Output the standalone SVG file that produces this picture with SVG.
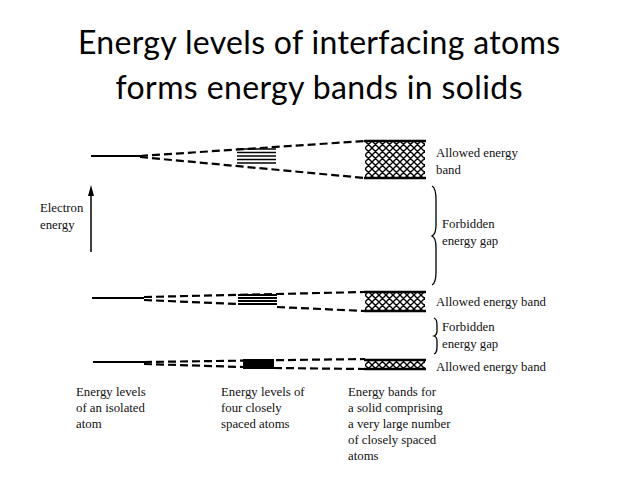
<svg xmlns="http://www.w3.org/2000/svg" width="638" height="478" viewBox="0 0 638 478">
<defs>
<style>
.title{font-family:Lato,"Open Sans",sans-serif;font-size:32px;fill:#000;text-anchor:middle}
.lbl{font-family:"Liberation Serif","DejaVu Serif",serif;font-size:12.8px;fill:#111}
.lvl{stroke:#000;stroke-width:2;fill:none}
.dash{stroke:#000;stroke-width:2.2;fill:none;stroke-dasharray:8 4}
.band{fill:url(#hatch);stroke:none}
.edge{stroke:#000;stroke-width:2.5}
.brace{stroke:#000;stroke-width:1.3;fill:none}
</style>
<pattern id="hatch" patternUnits="userSpaceOnUse" x="365" y="141" width="7" height="7">
<path d="M-1,1 L1,-1 M0,7 L7,0 M6,8 L8,6 M-1,6 L1,8 M0,0 L7,7 M6,-1 L8,1" stroke="#000" stroke-width="1.4"/>
</pattern>
</defs>
<rect width="638" height="478" fill="#fff"/>
<g id="title">
<text class="title" x="319" y="54" textLength="482">Energy levels of interfacing atoms</text>
<text class="title" x="319" y="99" textLength="407">forms energy bands in solids</text>
</g>
<g id="axis">
<line x1="91" y1="252" x2="91" y2="194" stroke="#000" stroke-width="1.5"/>
<path d="M91,185 L94,196 L88,196 Z" fill="#000"/>
<text class="lbl" x="40" y="212">Electron</text>
<text class="lbl" x="40" y="229">energy</text>
</g>
<g id="connectors">
<path class="dash" d="M140,156 L365,141"/>
<path class="dash" d="M140,157 L365,178"/>
<path class="dash" d="M144,297 L365,292"/>
<path class="dash" d="M144,300 L238,304 M277,307 L365,311"/>
<path class="dash" d="M144,362 L365,359"/>
<path class="dash" d="M144,364 L243,367 M274,368 L365,369"/>
</g>
<g id="isolated-atom">
<line class="lvl" x1="91" y1="156" x2="140" y2="156"/>
<line class="lvl" x1="92" y1="298" x2="144" y2="298"/>
<line class="lvl" x1="93" y1="362" x2="144" y2="362"/>
</g>
<g id="four-atoms">
<g stroke="#000" stroke-width="1.6">
<line x1="237" y1="149" x2="276" y2="149"/>
<line x1="237" y1="152.5" x2="276" y2="152.5"/>
<line x1="237" y1="156" x2="276" y2="156"/>
<line x1="237" y1="159.5" x2="276" y2="159.5"/>
<line x1="237" y1="163" x2="276" y2="163"/>
</g>
<g stroke="#000" stroke-width="2">
<line x1="238" y1="295" x2="277" y2="295"/>
<line x1="238" y1="298" x2="277" y2="298"/>
<line x1="238" y1="301" x2="277" y2="301"/>
<line x1="238" y1="304" x2="277" y2="304"/>
</g>
<rect x="243" y="359" width="31" height="10" fill="#000"/>
</g>
<g id="bands">
<rect class="band" x="365" y="141" width="60" height="37"/>
<line class="edge" x1="364" y1="141" x2="426" y2="141"/>
<line class="edge" x1="364" y1="178" x2="426" y2="178"/>
<rect class="band" x="365" y="292" width="60" height="19"/>
<line class="edge" x1="364" y1="292" x2="426" y2="292"/>
<line class="edge" x1="364" y1="311" x2="426" y2="311"/>
<rect class="band" x="365" y="360" width="60" height="9"/>
<line class="edge" x1="364" y1="360" x2="426" y2="360"/>
<line class="edge" x1="364" y1="369" x2="426" y2="369"/>
</g>
<g id="braces">
<path class="brace" d="M432,186 Q436,188 436,200 L436,225 Q436,234 432,236 Q436,238 436,247 L436,272 Q436,283 432,285"/>
<path class="brace" d="M434,318 Q437,319 437,325 L437,331 Q437,335 434,336 Q437,337 437,341 L437,347 Q437,353 434,354"/>
</g>
<g id="labels">
<text class="lbl" x="436" y="157">Allowed energy</text>
<text class="lbl" x="436" y="174">band</text>
<text class="lbl" x="442" y="228">Forbidden</text>
<text class="lbl" x="442" y="245">energy gap</text>
<text class="lbl" x="436" y="306">Allowed energy band</text>
<text class="lbl" x="442" y="331">Forbidden</text>
<text class="lbl" x="442" y="348">energy gap</text>
<text class="lbl" x="436" y="371">Allowed energy band</text>
<text class="lbl" x="76" y="396">Energy levels</text>
<text class="lbl" x="76" y="412">of an isolated</text>
<text class="lbl" x="76" y="428">atom</text>
<text class="lbl" x="221" y="396">Energy levels of</text>
<text class="lbl" x="221" y="412">four closely</text>
<text class="lbl" x="221" y="428">spaced atoms</text>
<text class="lbl" x="348" y="396">Energy bands for</text>
<text class="lbl" x="348" y="412">a solid comprising</text>
<text class="lbl" x="348" y="428">a very large number</text>
<text class="lbl" x="348" y="444">of closely spaced</text>
<text class="lbl" x="348" y="460">atoms</text>
</g>
</svg>
